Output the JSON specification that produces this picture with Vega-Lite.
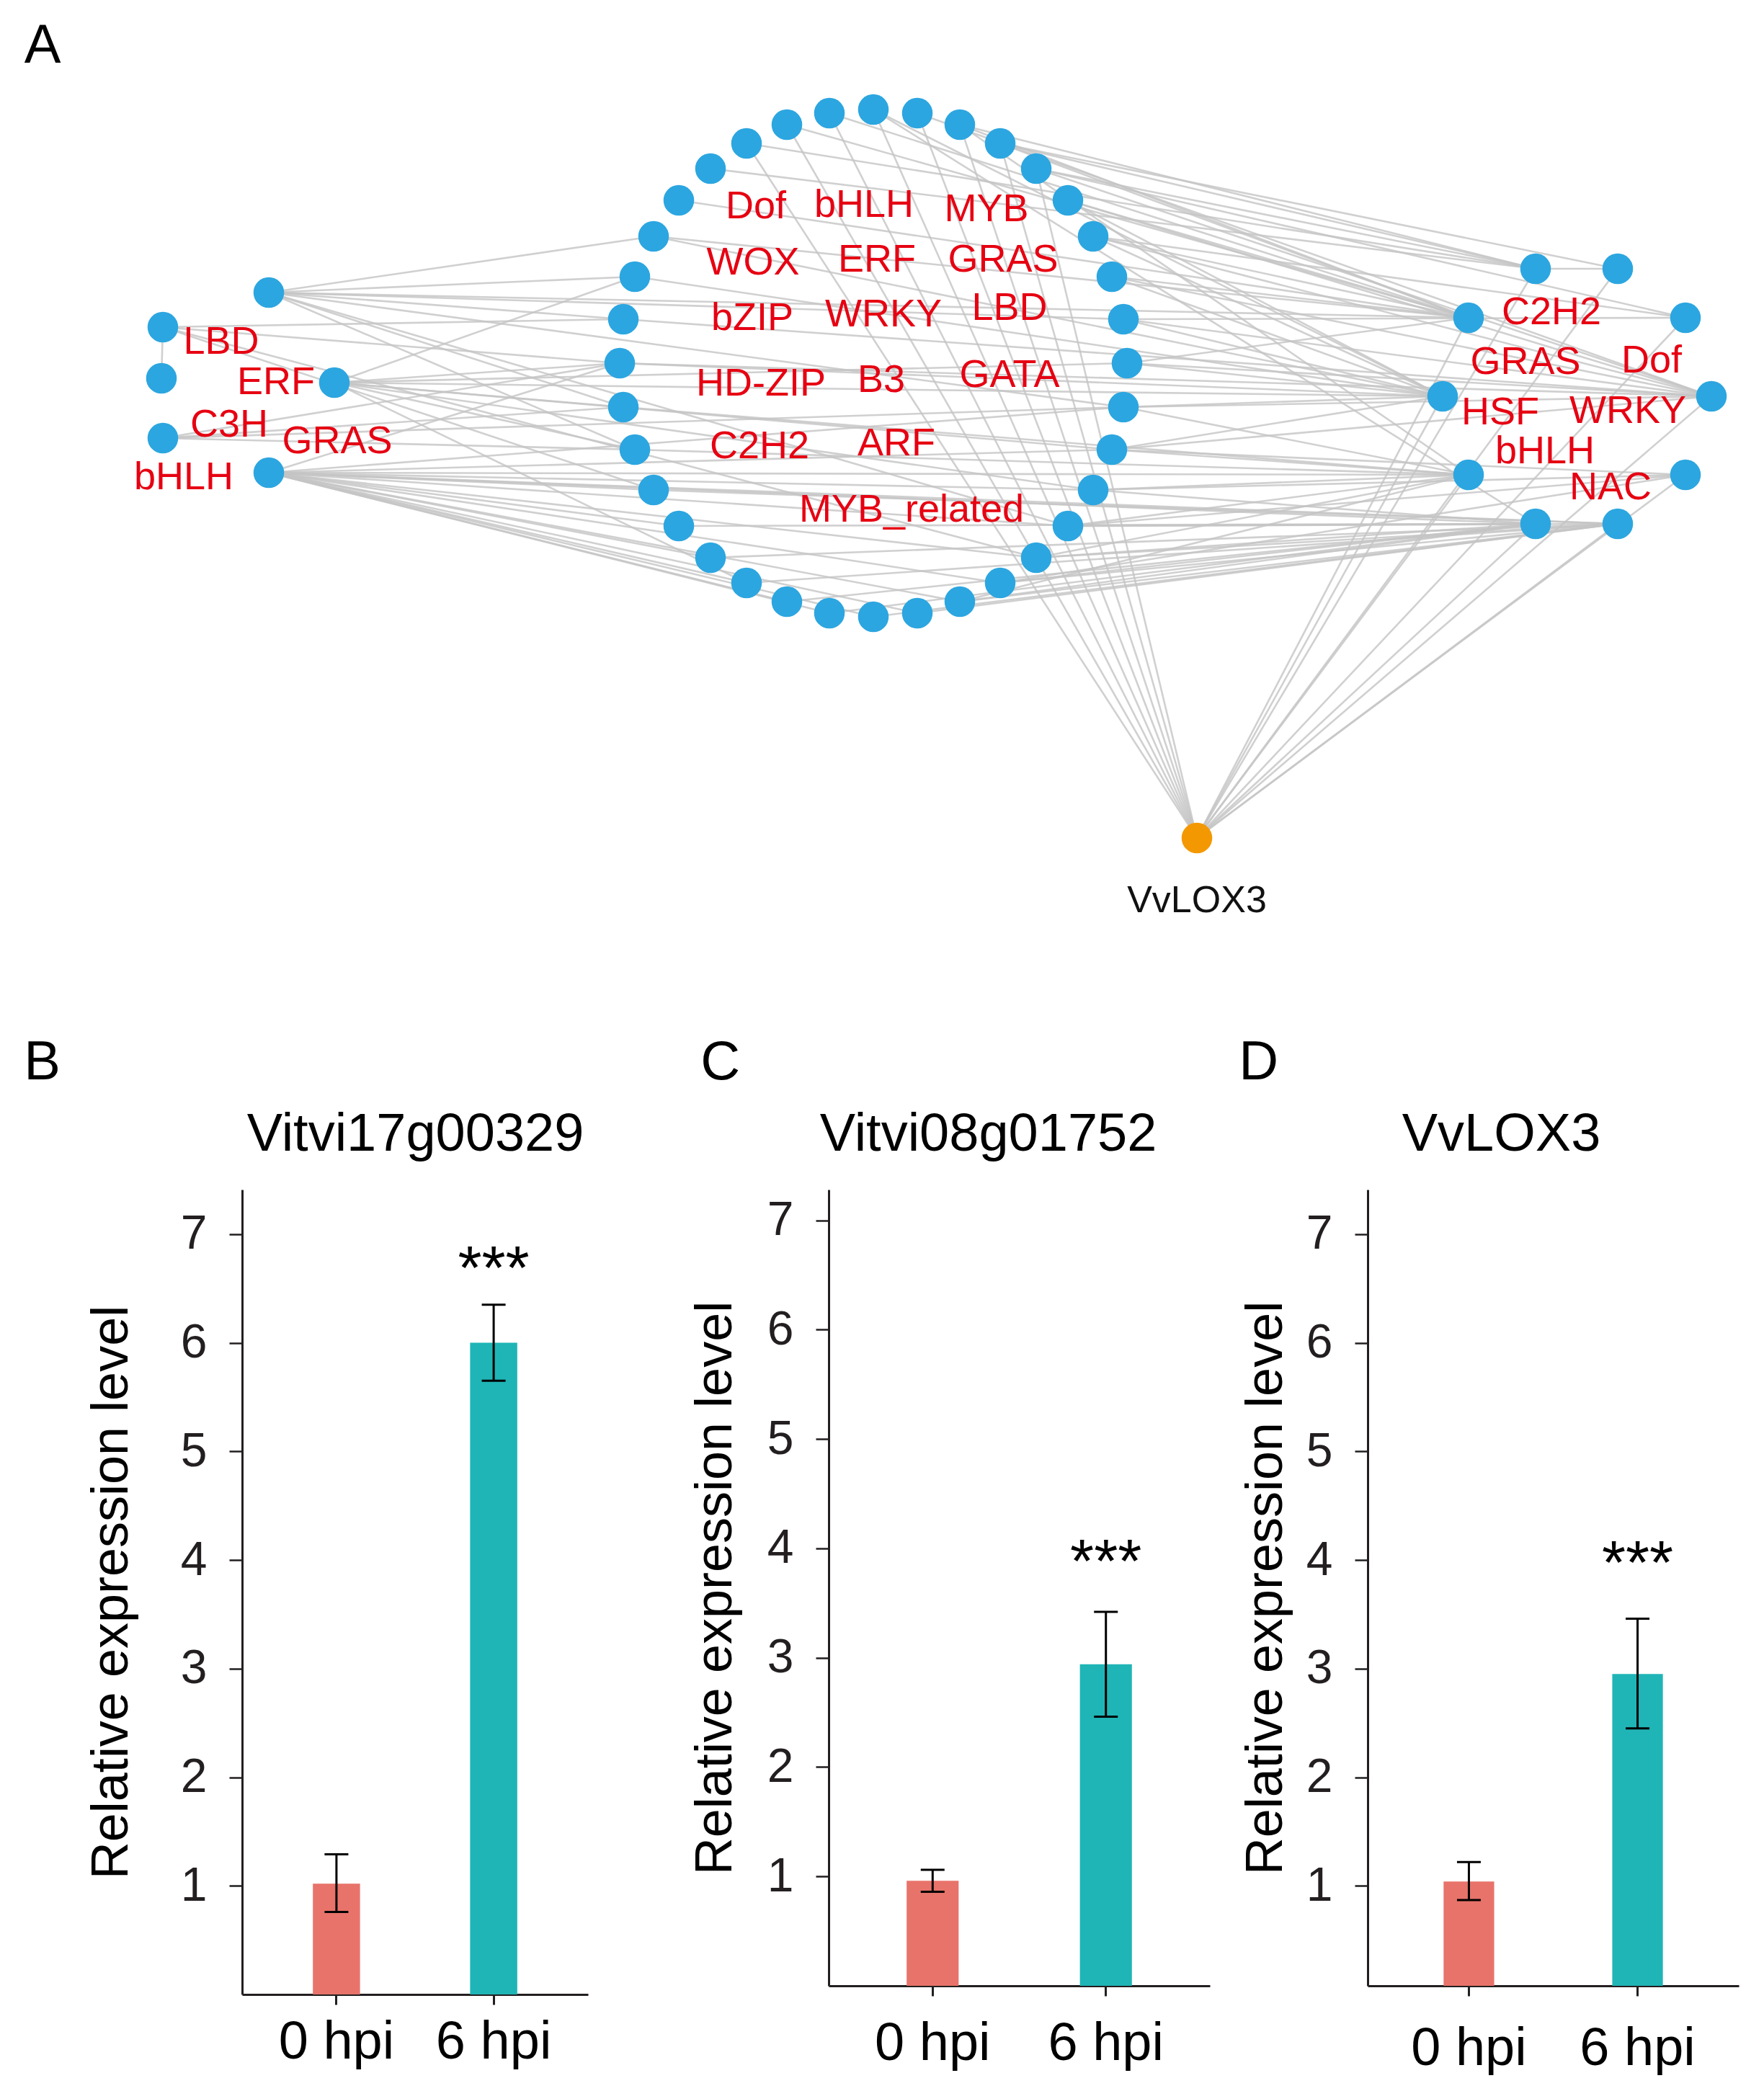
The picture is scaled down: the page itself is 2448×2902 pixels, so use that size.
{
  "$schema": "https://vega.github.io/schema/vega-lite/v6.json",
  "background": "white",
  "padding": {"left": 33, "top": 0, "right": 0, "bottom": 0},
  "config": {"view": {"stroke": null}, "font": "Liberation Sans"},
  "resolve": {"scale": {"color": "independent"}},
  "datasets": {
    "nodes": [
      {"id": "L1", "x": 373, "y": 406, "kind": "tf"},
      {"id": "L2", "x": 226, "y": 454, "kind": "tf"},
      {"id": "L3", "x": 224, "y": 525, "kind": "tf"},
      {"id": "L4", "x": 464, "y": 531, "kind": "tf"},
      {"id": "L5", "x": 226, "y": 608, "kind": "tf"},
      {"id": "L6", "x": 373, "y": 656, "kind": "tf"},
      {"id": "C00", "x": 1212, "y": 152, "kind": "tf"},
      {"id": "C01", "x": 1273, "y": 157, "kind": "tf"},
      {"id": "C02", "x": 1332, "y": 173, "kind": "tf"},
      {"id": "C03", "x": 1388, "y": 199, "kind": "tf"},
      {"id": "C04", "x": 1438, "y": 234, "kind": "tf"},
      {"id": "C05", "x": 1482, "y": 278, "kind": "tf"},
      {"id": "C06", "x": 1517, "y": 328, "kind": "tf"},
      {"id": "C07", "x": 1543, "y": 384, "kind": "tf"},
      {"id": "C08", "x": 1559, "y": 443, "kind": "tf"},
      {"id": "C09", "x": 1564, "y": 504, "kind": "tf"},
      {"id": "C10", "x": 1559, "y": 565, "kind": "tf"},
      {"id": "C11", "x": 1543, "y": 624, "kind": "tf"},
      {"id": "C12", "x": 1517, "y": 680, "kind": "tf"},
      {"id": "C13", "x": 1482, "y": 730, "kind": "tf"},
      {"id": "C14", "x": 1438, "y": 774, "kind": "tf"},
      {"id": "C15", "x": 1388, "y": 809, "kind": "tf"},
      {"id": "C16", "x": 1332, "y": 835, "kind": "tf"},
      {"id": "C17", "x": 1273, "y": 851, "kind": "tf"},
      {"id": "C18", "x": 1212, "y": 856, "kind": "tf"},
      {"id": "C19", "x": 1151, "y": 851, "kind": "tf"},
      {"id": "C20", "x": 1092, "y": 835, "kind": "tf"},
      {"id": "C21", "x": 1036, "y": 809, "kind": "tf"},
      {"id": "C22", "x": 986, "y": 774, "kind": "tf"},
      {"id": "C23", "x": 942, "y": 730, "kind": "tf"},
      {"id": "C24", "x": 907, "y": 680, "kind": "tf"},
      {"id": "C25", "x": 881, "y": 624, "kind": "tf"},
      {"id": "C26", "x": 865, "y": 565, "kind": "tf"},
      {"id": "C27", "x": 860, "y": 504, "kind": "tf"},
      {"id": "C28", "x": 865, "y": 443, "kind": "tf"},
      {"id": "C29", "x": 881, "y": 384, "kind": "tf"},
      {"id": "C30", "x": 907, "y": 328, "kind": "tf"},
      {"id": "C31", "x": 942, "y": 278, "kind": "tf"},
      {"id": "C32", "x": 986, "y": 234, "kind": "tf"},
      {"id": "C33", "x": 1036, "y": 199, "kind": "tf"},
      {"id": "C34", "x": 1092, "y": 173, "kind": "tf"},
      {"id": "C35", "x": 1151, "y": 157, "kind": "tf"},
      {"id": "R1", "x": 2131, "y": 373, "kind": "tf"},
      {"id": "R2", "x": 2245, "y": 373, "kind": "tf"},
      {"id": "R3", "x": 2038, "y": 441, "kind": "tf"},
      {"id": "R4", "x": 2339, "y": 441, "kind": "tf"},
      {"id": "R5", "x": 2002, "y": 550, "kind": "tf"},
      {"id": "R6", "x": 2375, "y": 550, "kind": "tf"},
      {"id": "R7", "x": 2038, "y": 659, "kind": "tf"},
      {"id": "R8", "x": 2339, "y": 659, "kind": "tf"},
      {"id": "R9", "x": 2131, "y": 727, "kind": "tf"},
      {"id": "R10", "x": 2245, "y": 727, "kind": "tf"},
      {"id": "V", "x": 1661, "y": 1163, "kind": "target", "name": "VvLOX3"}
    ],
    "edges": [
      {"s": "L2", "t": "L3"},
      {"s": "L1", "t": "C29"}, {"s": "L1", "t": "C28"}, {"s": "L1", "t": "C26"}, {"s": "L1", "t": "C25"}, {"s": "L1", "t": "C10"}, {"s": "L1", "t": "C08"}, {"s": "L1", "t": "C13"}, {"s": "L1", "t": "R3"}, {"s": "L1", "t": "C30"},
      {"s": "L2", "t": "C28"}, {"s": "L2", "t": "C27"}, {"s": "L2", "t": "C24"}, {"s": "L2", "t": "C14"},
      {"s": "L4", "t": "C27"}, {"s": "L4", "t": "C26"}, {"s": "L4", "t": "C25"}, {"s": "L4", "t": "C29"}, {"s": "L4", "t": "C09"}, {"s": "L4", "t": "C11"}, {"s": "L4", "t": "C21"}, {"s": "L4", "t": "C12"}, {"s": "L4", "t": "R5"},
      {"s": "L5", "t": "C25"}, {"s": "L5", "t": "C26"}, {"s": "L5", "t": "C10"}, {"s": "L5", "t": "C27"},
      {"s": "L6", "t": "C27"}, {"s": "L6", "t": "C24"}, {"s": "L6", "t": "C23"}, {"s": "L6", "t": "C22"}, {"s": "L6", "t": "C21"}, {"s": "L6", "t": "C20"}, {"s": "L6", "t": "C19"}, {"s": "L6", "t": "C18"}, {"s": "L6", "t": "C12"}, {"s": "L6", "t": "C13"}, {"s": "L6", "t": "C14"}, {"s": "L6", "t": "C15"}, {"s": "L6", "t": "C16"}, {"s": "L6", "t": "C11"}, {"s": "L6", "t": "R7"}, {"s": "L6", "t": "R9"}, {"s": "L6", "t": "R10"}, {"s": "L6", "t": "C10"}, {"s": "L6", "t": "C17"},
      {"s": "V", "t": "C33"}, {"s": "V", "t": "C34"}, {"s": "V", "t": "C35"}, {"s": "V", "t": "C00"}, {"s": "V", "t": "C01"}, {"s": "V", "t": "C02"}, {"s": "V", "t": "C03"}, {"s": "V", "t": "C04"},
      {"s": "V", "t": "R1"}, {"s": "V", "t": "R2"}, {"s": "V", "t": "R3"}, {"s": "V", "t": "R4"}, {"s": "V", "t": "R5"}, {"s": "V", "t": "R6"}, {"s": "V", "t": "R7"}, {"s": "V", "t": "R8"}, {"s": "V", "t": "R9"}, {"s": "V", "t": "R10"},
      {"s": "R1", "t": "R2"},
      {"s": "C02", "t": "R1"}, {"s": "C03", "t": "R1"}, {"s": "C32", "t": "R1"}, {"s": "C33", "t": "R1"}, {"s": "C04", "t": "R1"},
      {"s": "C02", "t": "R3"}, {"s": "C03", "t": "R3"}, {"s": "C05", "t": "R3"}, {"s": "C06", "t": "R3"}, {"s": "C07", "t": "R3"}, {"s": "C09", "t": "R3"}, {"s": "C31", "t": "R3"}, {"s": "C34", "t": "R3"}, {"s": "C35", "t": "R3"}, {"s": "C30", "t": "R3"},
      {"s": "C05", "t": "R5"}, {"s": "C06", "t": "R5"}, {"s": "C07", "t": "R5"}, {"s": "C08", "t": "R5"}, {"s": "C09", "t": "R5"}, {"s": "C10", "t": "R5"}, {"s": "C11", "t": "R5"}, {"s": "C29", "t": "R5"}, {"s": "C30", "t": "R5"}, {"s": "C00", "t": "R5"}, {"s": "C27", "t": "R5"},
      {"s": "C10", "t": "R7"}, {"s": "C11", "t": "R7"}, {"s": "C12", "t": "R7"}, {"s": "C13", "t": "R7"}, {"s": "C14", "t": "R7"}, {"s": "C26", "t": "R7"}, {"s": "C25", "t": "R7"}, {"s": "C02", "t": "R7"}, {"s": "C16", "t": "R7"},
      {"s": "C12", "t": "R9"}, {"s": "C13", "t": "R9"}, {"s": "C14", "t": "R9"}, {"s": "C15", "t": "R9"}, {"s": "C16", "t": "R9"}, {"s": "C20", "t": "R9"}, {"s": "C19", "t": "R9"}, {"s": "C23", "t": "R9"}, {"s": "C00", "t": "R9"},
      {"s": "C13", "t": "R10"}, {"s": "C14", "t": "R10"}, {"s": "C15", "t": "R10"}, {"s": "C16", "t": "R10"}, {"s": "C17", "t": "R10"}, {"s": "C18", "t": "R10"}, {"s": "C21", "t": "R10"}, {"s": "C22", "t": "R10"}, {"s": "C24", "t": "R10"},
      {"s": "C04", "t": "R6"}, {"s": "C05", "t": "R6"}, {"s": "C06", "t": "R6"}, {"s": "C07", "t": "R6"}, {"s": "C08", "t": "R6"}, {"s": "C09", "t": "R6"}, {"s": "C10", "t": "R6"}, {"s": "C11", "t": "R6"}, {"s": "C27", "t": "R6"}, {"s": "C28", "t": "R6"}, {"s": "C01", "t": "R6"},
      {"s": "C04", "t": "R4"}, {"s": "C06", "t": "R4"}, {"s": "C08", "t": "R4"}, {"s": "C03", "t": "R2"},
      {"s": "C12", "t": "R8"}, {"s": "C13", "t": "R8"}, {"s": "C15", "t": "R8"}, {"s": "C11", "t": "R8"}
    ],
    "families": [
      {"family": "LBD", "x": 307, "y": 475},
      {"family": "ERF", "x": 383, "y": 531},
      {"family": "C3H", "x": 318, "y": 590},
      {"family": "GRAS", "x": 468, "y": 613},
      {"family": "bHLH", "x": 255, "y": 663},
      {"family": "Dof", "x": 1049, "y": 287},
      {"family": "bHLH", "x": 1199, "y": 285},
      {"family": "MYB", "x": 1369, "y": 291},
      {"family": "WOX", "x": 1045, "y": 365},
      {"family": "ERF", "x": 1217, "y": 361},
      {"family": "GRAS", "x": 1392, "y": 361},
      {"family": "bZIP", "x": 1044, "y": 442},
      {"family": "WRKY", "x": 1226, "y": 437},
      {"family": "LBD", "x": 1401, "y": 428},
      {"family": "HD-ZIP", "x": 1056, "y": 533},
      {"family": "B3", "x": 1223, "y": 528},
      {"family": "GATA", "x": 1401, "y": 521},
      {"family": "C2H2", "x": 1054, "y": 620},
      {"family": "ARF", "x": 1244, "y": 616},
      {"family": "MYB_related", "x": 1265, "y": 708},
      {"family": "C2H2", "x": 2153, "y": 434},
      {"family": "GRAS", "x": 2117, "y": 503},
      {"family": "Dof", "x": 2292, "y": 501},
      {"family": "HSF", "x": 2082, "y": 573},
      {"family": "WRKY", "x": 2259, "y": 571},
      {"family": "bHLH", "x": 2144, "y": 627},
      {"family": "NAC", "x": 2235, "y": 677}
    ],
    "bars": [
      {"gene": "Vitvi17g00329", "time": "0 hpi", "mean": 1.02, "lo": 0.76, "hi": 1.29, "sig": ""},
      {"gene": "Vitvi17g00329", "time": "6 hpi", "mean": 6.0, "lo": 5.65, "hi": 6.35, "sig": "***"},
      {"gene": "Vitvi08g01752", "time": "0 hpi", "mean": 0.96, "lo": 0.86, "hi": 1.06, "sig": ""},
      {"gene": "Vitvi08g01752", "time": "6 hpi", "mean": 2.94, "lo": 2.46, "hi": 3.42, "sig": "***"},
      {"gene": "VvLOX3", "time": "0 hpi", "mean": 1.04, "lo": 0.87, "hi": 1.22, "sig": ""},
      {"gene": "VvLOX3", "time": "6 hpi", "mean": 2.95, "lo": 2.45, "hi": 3.46, "sig": "***"}
    ]
  },
  "spacing": 137,
  "vconcat": [
    {
      "width": 2112,
      "height": 1300,
      "layer": [
        {
          "data": {"name": "edges"},
          "transform": [
            {"lookup": "s", "from": {"data": {"name": "nodes"}, "key": "id", "fields": ["x", "y"]}, "as": ["sx", "sy"]},
            {"lookup": "t", "from": {"data": {"name": "nodes"}, "key": "id", "fields": ["x", "y"]}, "as": ["tx", "ty"]}
          ],
          "mark": {"type": "rule", "color": "#c4c4c4", "strokeWidth": 2.6, "opacity": 0.8},
          "encoding": {
            "x": {"field": "sx", "type": "quantitative", "scale": {"domain": [336, 2448], "nice": false, "zero": false}, "axis": null},
            "y": {"field": "sy", "type": "quantitative", "scale": {"domain": [0, 1300], "nice": false, "zero": false, "reverse": true}, "axis": null},
            "x2": {"field": "tx"},
            "y2": {"field": "ty"}
          }
        },
        {
          "data": {"name": "nodes"},
          "mark": {"type": "circle", "size": 1810, "opacity": 1},
          "encoding": {
            "x": {"field": "x", "type": "quantitative"},
            "y": {"field": "y", "type": "quantitative"},
            "color": {"field": "kind", "type": "nominal", "scale": {"domain": ["tf", "target"], "range": ["#2CA6E0", "#F39800"]}, "legend": null}
          }
        },
        {
          "data": {"name": "nodes"},
          "transform": [{"filter": "datum.kind == 'target'"}],
          "mark": {"type": "text", "fontSize": 52, "color": "#111111", "dy": 87, "baseline": "middle"},
          "encoding": {
            "x": {"field": "x", "type": "quantitative"},
            "y": {"field": "y", "type": "quantitative"},
            "text": {"field": "name"}
          }
        },
        {
          "data": {"name": "families"},
          "mark": {"type": "text", "fontSize": 54, "color": "#E60012", "baseline": "middle"},
          "encoding": {
            "x": {"field": "x", "type": "quantitative"},
            "y": {"field": "y", "type": "quantitative"},
            "text": {"field": "family"}
          }
        },
        {
          "data": {"values": [{"panel": "A"}]},
          "mark": {"type": "text", "fontSize": 76, "color": "black", "baseline": "middle"},
          "encoding": {
            "x": {"datum": 59},
            "y": {"datum": 64},
            "text": {"field": "panel"}
          }
        }
      ]
    },
    {
      "spacing": 40,
      "hconcat": [
        {
          "width": 480,
          "height": 1117,
          "title": {"text": "B", "anchor": "start", "frame": "bounds", "fontSize": 76, "fontWeight": "normal", "color": "black", "offset": 23, "dx": -85},
          "data": {"name": "bars"},
          "transform": [{"filter": "datum.gene == 'Vitvi17g00329'"}],
          "resolve": {"axis": {"x": "independent"}},
          "layer": [
            {
              "mark": {"type": "bar", "clip": true},
              "encoding": {
                "x": {"field": "time", "type": "nominal", "scale": {"paddingInner": 0.7, "paddingOuter": 0.45},
                  "axis": {"title": null, "labelAngle": 0, "domainColor": "#231f20", "domainWidth": 3, "tickColor": "#231f20", "tickWidth": 3, "tickSize": 14, "labelFontSize": 74, "labelColor": "black", "labelPadding": 16}},
                "y": {"field": "mean", "type": "quantitative", "scale": {"domain": [0, 7.41], "nice": false, "zero": false},
                  "axis": {"title": "Relative expression level", "values": [1, 2, 3, 4, 5, 6, 7], "format": "d", "grid": false, "domainColor": "#231f20", "domainWidth": 3, "tickColor": "#231f20", "tickWidth": 2.5, "tickSize": 18, "labelFontSize": 66, "labelColor": "#231f20", "labelPadding": 31, "titleFontSize": 72, "titleFontWeight": "normal", "titleColor": "black", "titlePadding": 59}},
                "color": {"field": "time", "type": "nominal", "scale": {"domain": ["0 hpi", "6 hpi"], "range": ["#E8736A", "#1FB5B6"]}, "legend": null}
              }
            },
            {
              "mark": {"type": "rule", "color": "black", "strokeWidth": 3},
              "encoding": {
                "x": {"field": "time", "type": "nominal", "axis": {"orient": "top", "title": "Vitvi17g00329", "domain": false, "ticks": false, "labels": false, "titleFontSize": 74, "titleFontWeight": "normal", "titleColor": "black", "titlePadding": 39}},
                "y": {"field": "lo", "type": "quantitative"},
                "y2": {"field": "hi"}
              }
            },
            {"mark": {"type": "tick", "color": "black", "thickness": 3, "size": 33, "opacity": 1}, "encoding": {"x": {"field": "time", "type": "nominal", "axis": null}, "y": {"field": "lo", "type": "quantitative"}}},
            {"mark": {"type": "tick", "color": "black", "thickness": 3, "size": 33, "opacity": 1}, "encoding": {"x": {"field": "time", "type": "nominal", "axis": null}, "y": {"field": "hi", "type": "quantitative"}}},
            {"transform": [{"filter": "datum.sig != ''"}], "mark": {"type": "text", "fontSize": 85, "color": "black", "baseline": "alphabetic", "dy": -22}, "encoding": {"x": {"field": "time", "type": "nominal", "axis": null}, "y": {"field": "hi", "type": "quantitative"}, "text": {"field": "sig"}}}
          ]
        },
        {
          "width": 60,
          "height": 1105,
          "data": {"values": []},
          "mark": {"type": "point", "opacity": 0},
          "encoding": {}
        },
        {
          "width": 529,
          "height": 1105,
          "title": {"text": "C", "anchor": "start", "frame": "bounds", "fontSize": 76, "fontWeight": "normal", "color": "black", "offset": 23, "dx": 16},
          "data": {"name": "bars"},
          "transform": [{"filter": "datum.gene == 'Vitvi08g01752'"}],
          "resolve": {"axis": {"x": "independent"}},
          "layer": [
            {
              "mark": {"type": "bar", "clip": true},
              "encoding": {
                "x": {"field": "time", "type": "nominal", "scale": {"paddingInner": 0.7, "paddingOuter": 0.45},
                  "axis": {"title": null, "labelAngle": 0, "domainColor": "#231f20", "domainWidth": 3, "tickColor": "#231f20", "tickWidth": 3, "tickSize": 14, "labelFontSize": 74, "labelColor": "black", "labelPadding": 30}},
                "y": {"field": "mean", "type": "quantitative", "scale": {"domain": [0, 7.28], "nice": false, "zero": false},
                  "axis": {"title": "Relative expression level", "values": [1, 2, 3, 4, 5, 6, 7], "format": "d", "grid": false, "domainColor": "#231f20", "domainWidth": 3, "tickColor": "#231f20", "tickWidth": 2.5, "tickSize": 18, "labelFontSize": 66, "labelColor": "#231f20", "labelPadding": 31, "titleFontSize": 72, "titleFontWeight": "normal", "titleColor": "black", "titlePadding": 35}},
                "color": {"field": "time", "type": "nominal", "scale": {"domain": ["0 hpi", "6 hpi"], "range": ["#E8736A", "#1FB5B6"]}, "legend": null}
              }
            },
            {
              "mark": {"type": "rule", "color": "black", "strokeWidth": 3},
              "encoding": {
                "x": {"field": "time", "type": "nominal", "axis": {"orient": "top", "title": "Vitvi08g01752", "titleX": 221, "domain": false, "ticks": false, "labels": false, "titleFontSize": 74, "titleFontWeight": "normal", "titleColor": "black", "titlePadding": 39}},
                "y": {"field": "lo", "type": "quantitative"},
                "y2": {"field": "hi"}
              }
            },
            {"mark": {"type": "tick", "color": "black", "thickness": 3, "size": 33, "opacity": 1}, "encoding": {"x": {"field": "time", "type": "nominal", "axis": null}, "y": {"field": "lo", "type": "quantitative"}}},
            {"mark": {"type": "tick", "color": "black", "thickness": 3, "size": 33, "opacity": 1}, "encoding": {"x": {"field": "time", "type": "nominal", "axis": null}, "y": {"field": "hi", "type": "quantitative"}}},
            {"transform": [{"filter": "datum.sig != ''"}], "mark": {"type": "text", "fontSize": 85, "color": "black", "baseline": "alphabetic", "dy": -41}, "encoding": {"x": {"field": "time", "type": "nominal", "axis": null}, "y": {"field": "hi", "type": "quantitative"}, "text": {"field": "sig"}}}
          ]
        },
        {
          "width": 515,
          "height": 1105,
          "title": {"text": "D", "anchor": "start", "frame": "bounds", "fontSize": 76, "fontWeight": "normal", "color": "black", "offset": 23, "dx": -1},
          "data": {"name": "bars"},
          "transform": [{"filter": "datum.gene == 'VvLOX3'"}],
          "resolve": {"axis": {"x": "independent"}},
          "layer": [
            {
              "mark": {"type": "bar", "clip": true},
              "encoding": {
                "x": {"field": "time", "type": "nominal", "scale": {"paddingInner": 0.7, "paddingOuter": 0.45},
                  "axis": {"title": null, "labelAngle": 0, "domainColor": "#231f20", "domainWidth": 3, "tickColor": "#231f20", "tickWidth": 3, "tickSize": 14, "labelFontSize": 74, "labelColor": "black", "labelPadding": 37}},
                "y": {"field": "mean", "type": "quantitative", "scale": {"domain": [0.08, 7.41], "nice": false, "zero": false},
                  "axis": {"title": "Relative expression level", "values": [1, 2, 3, 4, 5, 6, 7], "format": "d", "grid": false, "domainColor": "#231f20", "domainWidth": 3, "tickColor": "#231f20", "tickWidth": 2.5, "tickSize": 18, "labelFontSize": 66, "labelColor": "#231f20", "labelPadding": 31, "titleFontSize": 72, "titleFontWeight": "normal", "titleColor": "black", "titlePadding": 19}},
                "color": {"field": "time", "type": "nominal", "scale": {"domain": ["0 hpi", "6 hpi"], "range": ["#E8736A", "#1FB5B6"]}, "legend": null}
              }
            },
            {
              "mark": {"type": "rule", "color": "black", "strokeWidth": 3},
              "encoding": {
                "x": {"field": "time", "type": "nominal", "axis": {"orient": "top", "title": "VvLOX3", "titleX": 185, "domain": false, "ticks": false, "labels": false, "titleFontSize": 74, "titleFontWeight": "normal", "titleColor": "black", "titlePadding": 39}},
                "y": {"field": "lo", "type": "quantitative"},
                "y2": {"field": "hi"}
              }
            },
            {"mark": {"type": "tick", "color": "black", "thickness": 3, "size": 33, "opacity": 1}, "encoding": {"x": {"field": "time", "type": "nominal", "axis": null}, "y": {"field": "lo", "type": "quantitative"}}},
            {"mark": {"type": "tick", "color": "black", "thickness": 3, "size": 33, "opacity": 1}, "encoding": {"x": {"field": "time", "type": "nominal", "axis": null}, "y": {"field": "hi", "type": "quantitative"}}},
            {"transform": [{"filter": "datum.sig != ''"}], "mark": {"type": "text", "fontSize": 85, "color": "black", "baseline": "alphabetic", "dy": -48}, "encoding": {"x": {"field": "time", "type": "nominal", "axis": null}, "y": {"field": "hi", "type": "quantitative"}, "text": {"field": "sig"}}}
          ]
        }
      ]
    }
  ]
}
